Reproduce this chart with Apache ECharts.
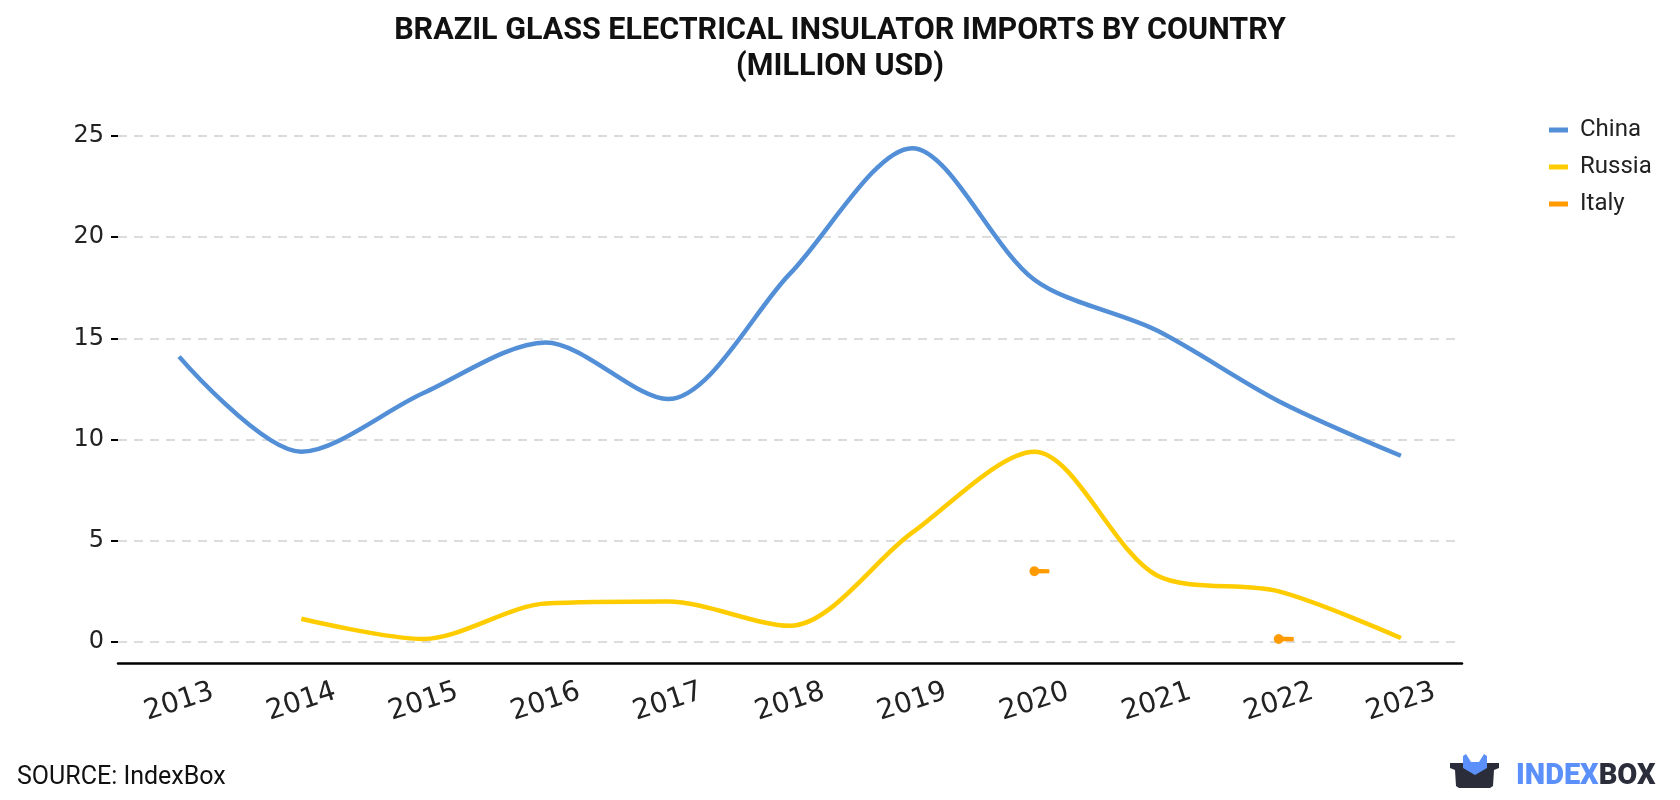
<!DOCTYPE html>
<html>
<head>
<meta charset="utf-8">
<script src="https://cdn.jsdelivr.net/npm/echarts@6/dist/echarts.min.js"></script>
<style>
  html, body { margin: 0; padding: 0; background: #fff; }
  #chart { width: 1680px; height: 800px; }
</style>
</head>
<body>
<div id="chart"></div>
<script>
const years = [ '2013', '2014', '2015', '2016', '2017', '2018', '2019', '2020', '2021', '2022', '2023' ]
const china = [ 14.1, 9.4, 12.3, 14.8, 12.0, 18.2, 24.4, 17.9, 15.4, 11.9, 9.2 ]
const russia = [ null, 1.15, 0.15, 1.9, 2.0, 0.8, 5.4, 9.4, 3.3, 2.5, 0.2 ]
const italy = [ null, null, null, null, null, null, null, 3.5, null, 0.15, null ]
const yTicks = { min: 0, max: 25, interval: 5 }

const chart = echarts.init( document.getElementById( 'chart' ), null, { renderer: 'canvas' } )

// dot with a short trailing dash, like the lone points in the reference
const dotDash = 'path://M10,5L9.33,7.5L7.5,9.33L5,10L2.5,9.33L0.67,7.5L0,5L0.67,2.5L2.5,0.67L5,0L7.5,0.67L9.33,2.5Z' +
	'M5,2.6L20,3.1L20,7.2L5,7.4Z'

const option = {
	animation: false,
	backgroundColor: '#fff',
	title: {
		text: 'BRAZIL GLASS ELECTRICAL INSULATOR IMPORTS BY COUNTRY\n(MILLION USD)',
		left: 'center',
		top: 8,
		textStyle: {
			fontFamily: 'Roboto',
			fontWeight: 'bold',
			fontSize: 30.5,
			lineHeight: 36,
			color: '#111'
		}
	},
	legend: {
		orient: 'vertical',
		left: 1544,
		top: 113,
		itemWidth: 19,
		itemHeight: 5,
		itemGap: 13,
		icon: 'rect',
		textStyle: { fontFamily: 'Roboto', fontSize: 24, color: '#222', padding: [ 0, 0, 0, 7 ] },
		data: [ 'China', 'Russia', 'Italy' ]
	},
	grid: { left: 118, right: 218, top: 136, bottom: 158 },
	xAxis: {
		type: 'category',
		data: years,
		boundaryGap: true,
		offset: 21,
		axisLine: { onZero: false, lineStyle: { color: '#000', width: 2.5 } },
		axisTick: { alignWithLabel: true, length: 8, lineStyle: { color: '#000', width: 2 } },
		axisLabel: {
			rotate: 18,
			align: 'center',
			verticalAlign: 'middle',
			margin: 39,
			fontFamily: 'DejaVu Sans',
			fontSize: 28,
			color: '#222'
		}
	},
	yAxis: {
		type: 'value',
		min: yTicks.min,
		max: yTicks.max,
		interval: yTicks.interval,
		axisLine: { show: false },
		axisTick: { show: true, length: 7, lineStyle: { color: '#000', width: 2 } },
		axisLabel: { margin: 14, fontFamily: 'DejaVu Sans', fontSize: 24, color: '#222' },
		splitLine: { lineStyle: { color: '#dcdcdc', width: 2, type: [ 9, 7 ] } }
	},
	series: [
		{
			name: 'China',
			type: 'line',
			data: china,
			smooth: 0.3,
			showSymbol: false,
			lineStyle: { width: 4.5, color: '#528fd7' },
			itemStyle: { color: '#528fd7' }
		},
		{
			name: 'Russia',
			type: 'line',
			data: russia,
			smooth: 0.3,
			showSymbol: false,
			lineStyle: { width: 4.5, color: '#ffcc00' },
			itemStyle: { color: '#ffcc00' }
		},
		{
			name: 'Italy',
			type: 'line',
			data: italy,
			showSymbol: true,
			symbol: dotDash,
			symbolSize: [ 20, 10 ],
			symbolOffset: [ 5, 0 ],
			lineStyle: { width: 4.5, color: '#ff9a00' },
			itemStyle: { color: '#ff9a00', borderWidth: 0 }
		}
	],
	graphic: [
		{
			type: 'text',
			left: 17,
			top: 765,
			style: { text: 'SOURCE: IndexBox', fontFamily: 'Roboto', fontSize: 25, fill: '#111' }
		},
		{
			type: 'polygon',
			shape: { points: [ [ 1450, 763 ], [ 1499, 763 ], [ 1499, 768 ], [ 1494, 770 ], [ 1493, 786 ], [ 1490, 788 ], [ 1459, 788 ], [ 1456, 786 ], [ 1455, 770 ], [ 1450, 768 ] ] },
			style: { fill: '#2b2d3a' }
		},
		{
			type: 'polygon',
			shape: { points: [ [ 1463, 768 ], [ 1463, 756 ], [ 1466, 754 ], [ 1471, 762 ], [ 1479, 762 ], [ 1484, 754 ], [ 1487, 756 ], [ 1487, 768 ], [ 1475, 775 ] ] },
			style: { fill: '#5b8ff9' }
		},
		{
			type: 'text',
			left: 1516,
			top: 762,
			style: {
				rich: {
					a: { fontFamily: 'Roboto', fontWeight: 900, fontSize: 29, fill: '#5b8ff9' },
					b: { fontFamily: 'Roboto', fontWeight: 900, fontSize: 29, fill: '#2b2d3a' }
				},
				text: '{a|INDEX}{b|BOX}'
			}
		}
	]
}

chart.setOption( option )
</script>
</body>
</html>
